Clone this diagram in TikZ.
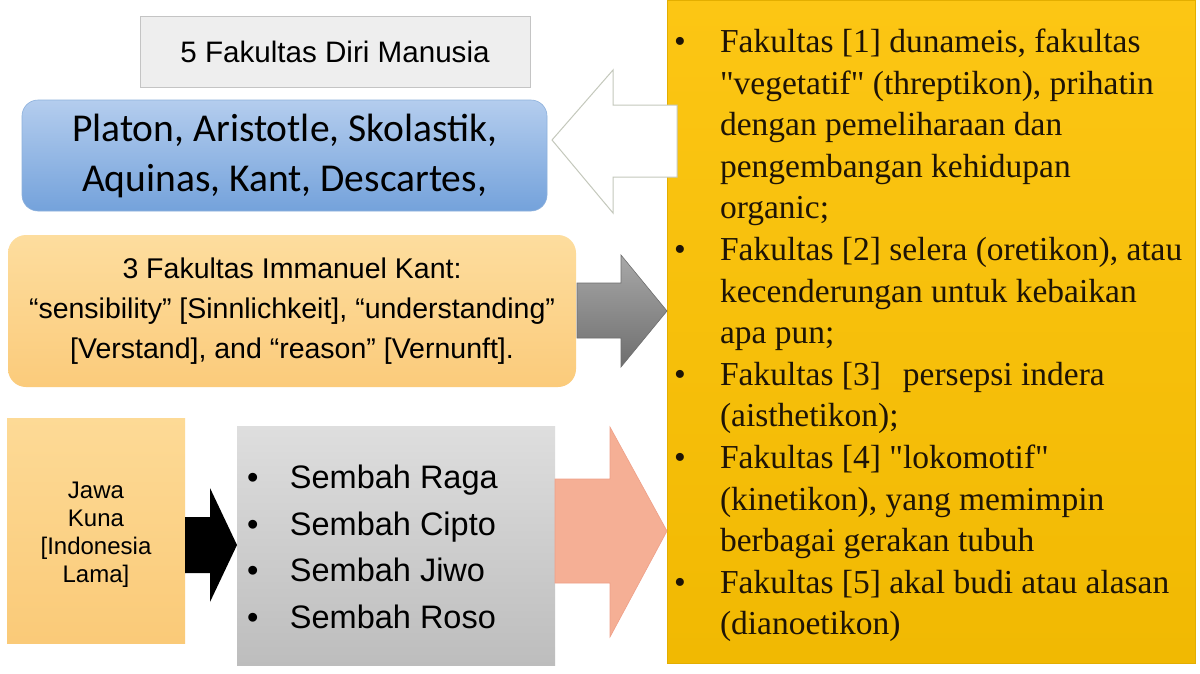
\documentclass[tikz,border=0pt]{standalone}
\usepackage{fontspec}
\setmainfont{Liberation Serif}
\newfontfamily\arialf{Liberation Sans}
\newfontfamily\calibrif{Carlito}
\newfontfamily\seriff{Liberation Serif}
\definecolor{yeltop}{HTML}{FCC614}
\definecolor{yelbot}{HTML}{F1B902}
\definecolor{yelborder}{HTML}{E3AE00}
\definecolor{bluetop}{HTML}{B4CDEE}
\definecolor{bluebot}{HTML}{74A2DB}
\definecolor{blueborder}{HTML}{8DB1DC}
\definecolor{orgtop}{HTML}{FDDD9E}
\definecolor{orgbot}{HTML}{FBCB7B}
\definecolor{jawatop}{HTML}{FDDA96}
\definecolor{jawabot}{HTML}{FACA78}
\definecolor{graytop}{HTML}{DEDEDE}
\definecolor{graybot}{HTML}{BDBDBD}
\definecolor{arrtop}{HTML}{A8A8A8}
\definecolor{arrbot}{HTML}{6E6E6E}
\definecolor{pinkf}{HTML}{F5AF95}
\definecolor{pinkb}{HTML}{EFA088}
\definecolor{titlefill}{HTML}{EEEEEE}
\definecolor{titleborder}{HTML}{C4C4C4}
\definecolor{whiteborder}{HTML}{C4C8BC}
\definecolor{textdark}{HTML}{1E1406}
\begin{document}
\begin{tikzpicture}[x=1pt,y=-1pt,
  panel/.style={inner sep=0pt, outer sep=0pt, align=center},
  titlebox/.style={panel, fill=titlefill, draw=titleborder, line width=0.8pt},
  bluebox/.style={panel, rounded corners=16pt, top color=bluetop, bottom color=bluebot, draw=blueborder, line width=0.6pt},
  kantbox/.style={panel, rounded corners=18pt, top color=orgtop, bottom color=orgbot},
  jawabox/.style={panel, top color=jawatop, bottom color=jawabot},
  graybox/.style={panel, top color=graytop, bottom color=graybot},
  yelbox/.style={panel, top color=yeltop, bottom color=yelbot, draw=yelborder, line width=0.6pt},
  whitearrow/.style={fill=white, draw=whiteborder, line width=1pt, line join=miter},
  grayarrow/.style={top color=arrtop, bottom color=arrbot, draw=arrbot, line width=0.6pt},
  pinkarrow/.style={fill=pinkf, draw=pinkb, line width=0.6pt},
  blackarrow/.style={fill=black},
  listtext/.style={inner sep=0pt, outer sep=0pt, align=left, anchor=north west}
]
\useasboundingbox (0,0) rectangle (1200,673);
\fill[white] (0,0) rectangle (1200,673);

% right faculties box
\node[yelbox, anchor=north west, minimum width=528, minimum height=663] (fak) at (667,0) {};
\node[listtext, text=textdark, font=\seriff\fontsize{33.5}{41.6}\selectfont] (faktext) at (674,29) {%
\makebox[46pt][l]{\textbullet}Fakultas [1] dunameis, fakultas\\
\hspace*{46pt}"vegetatif" (threptikon), prihatin\\
\hspace*{46pt}dengan pemeliharaan dan\\
\hspace*{46pt}pengembangan kehidupan\\
\hspace*{46pt}organic;\\
\makebox[46pt][l]{\textbullet}Fakultas [2] selera (oretikon), atau\\
\hspace*{46pt}kecenderungan untuk kebaikan\\
\hspace*{46pt}apa pun;\\
\makebox[46pt][l]{\textbullet}Fakultas [3]\hspace{22pt}persepsi indera\\
\hspace*{46pt}(aisthetikon);\\
\makebox[46pt][l]{\textbullet}Fakultas [4] "lokomotif"\\
\hspace*{46pt}(kinetikon), yang memimpin\\
\hspace*{46pt}berbagai gerakan tubuh\\
\makebox[46pt][l]{\textbullet}Fakultas [5] akal budi atau alasan\\
\hspace*{46pt}(dianoetikon)};

% title
\node[titlebox, minimum width=390, minimum height=71, font=\arialf\fontsize{29.6}{34}\selectfont] (title) at (335,52) {5 Fakultas Diri Manusia};

% blue box
\node[bluebox, minimum width=525, minimum height=111, font=\calibrif\fontsize{39.5}{50}\selectfont] (blue) at (284.5,155.5) {Platon, Aristotle, Skolastik,\\Aquinas, Kant, Descartes,};

% Kant box
\node[kantbox, minimum width=568, minimum height=152, font=\arialf\fontsize{28.5}{40}\selectfont] (kant) at (292,311) {3 Fakultas Immanuel Kant:\\“sensibility” [Sinnlichkeit], “understanding”\\{}[Verstand], and “reason” [Vernunft].};

% Jawa box
\node[jawabox, minimum width=178, minimum height=225] (jawa) at (96,530.5) {};
\node[panel, font=\arialf\fontsize{24}{28}\selectfont] (jawatext) at (96,535) {Jawa\\Kuna\\{}[Indonesia\\Lama]};

% gray box
\node[graybox, minimum width=318, minimum height=239] (sembah) at (396,545.5) {};
\node[inner sep=0pt, outer sep=0pt, align=left, anchor=west, font=\arialf\fontsize{32.5}{46.5}\selectfont] (sembahtext) at (247,547) {%
\makebox[43pt][l]{\textbullet}Sembah Raga\\
\makebox[43pt][l]{\textbullet}Sembah Cipto\\
\makebox[43pt][l]{\textbullet}Sembah Jiwo\\
\makebox[43pt][l]{\textbullet}Sembah Roso};

% block arrows
\draw[whitearrow] (blue.east) ++(5,-15.5) coordinate (wtip)
  (wtip) -- (613,70) -- (613,105) -- (677,105) -- (677,177) -- (613,177) -- (613,213) -- cycle;
\draw[grayarrow] (kant.east) ++(1,-28) coordinate (gs)
  (gs) -- (621,283) -- (621,255) -- (fak.west |- kant.east) -- (621,367) -- (621,338) -- (577,338) -- cycle;
\draw[pinkarrow] (sembah.east |- 0,479) -- (610,479) -- (610,427) -- (fak.west |- 0,531) -- (610,637) -- (610,583) -- (sembah.east |- 0,583) -- cycle;
\fill[blackarrow] (jawa.east |- 0,517) -- (210,517) -- (210,488) -- (sembah.west |- 0,545) -- (210,602) -- (210,573) -- (jawa.east |- 0,573) -- cycle;
\end{tikzpicture}
\end{document}
